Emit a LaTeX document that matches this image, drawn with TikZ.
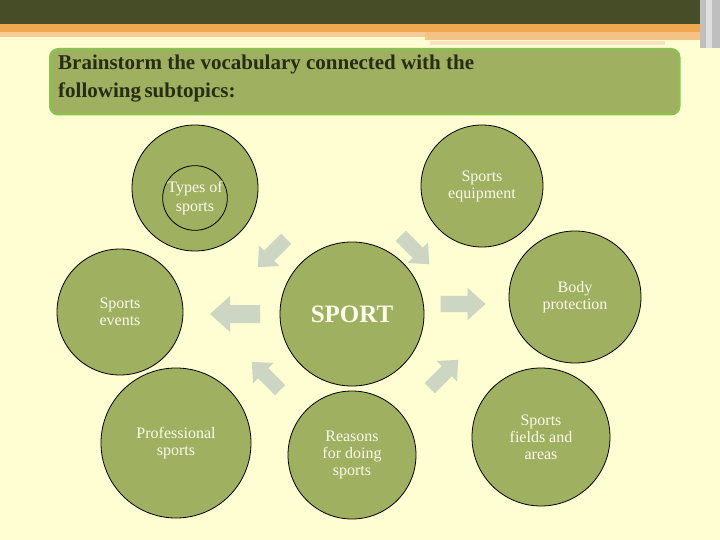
\documentclass[tikz,border=0pt]{standalone}
\usepackage{fontspec}
\setmainfont{Liberation Serif}
\begin{document}
\begin{tikzpicture}[x=1pt,y=-1pt,
  circ/.style={circle,draw=black,line width=0.8pt,fill=cgreen,text=ctext,font=\fontsize{16}{17}\selectfont,align=center,inner sep=0pt},
  barrow/.pic={\fill[carrow] (-25,-9)--(5,-9)--(5,-18)--(25,0)--(5,18)--(5,9)--(-25,9)--cycle;}]
\definecolor{bg}{HTML}{FFFDD2}
\definecolor{cgreen}{HTML}{9FB060}
\definecolor{ctext}{HTML}{FBFBEC}
\definecolor{carrow}{HTML}{CCD6C2}
\definecolor{dark}{HTML}{474D26}
\definecolor{orange}{HTML}{F0A850}
\fill[bg] (0,0) rectangle (720,540);
\useasboundingbox (0,0) rectangle (720,540);
\fill[dark] (0,0) rectangle (700,24);
\fill[orange] (0,24) rectangle (700,32);
\fill[orange!60] (0,32) rectangle (425,37);
\fill[orange!70] (425,32) rectangle (700,40);
\fill[orange!35] (430,41) rectangle (665,45);
\fill[gray!50] (700,0) rectangle (720,48);
\fill[gray!25] (706,0) rectangle (712,48);
\node[draw={rgb,255:red,140;green,192;blue,80},line width=2.5pt,fill=cgreen,rounded corners=8pt,minimum width=629,minimum height=65,anchor=north west] (title) at (49,48) {};
\node[anchor=north west,text width=612,align=justify,text={rgb,255:red,40;green,44;blue,20},font=\bfseries\fontsize{21}{28}\selectfont,inner sep=0pt] (tt) at (58,55) {Brainstorm the vocabulary connected with the\\ following\,subtopics:};
\node[circ,minimum size=126] (types) at (195,188) {};
\node[circ,font=\fontsize{16}{19}\selectfont] (typest) at (195,198) {Types of\\sports};
\node[circ,minimum size=122] (equip) at (482,186) {Sports\\equipment};
\node[circ,minimum size=126] (events) at (120,312) {Sports\\events};
\node[circ,minimum size=144,font=\bfseries\fontsize{25}{28}\selectfont] (sport) at (352,314) {SPORT};
\node[circ,minimum size=132] (body) at (575,297) {Body\\protection};
\node[circ,minimum size=150] (prof) at (176,443) {Professional\\sports};
\node[circ,minimum size=128] (reasons) at (352,455) {Reasons\\for doing\\sports};
\node[circ,minimum size=138] (fields) at (541,437) {Sports\\fields and\\areas};
\pic[rotate=180] at (235,314) {barrow};
\pic[rotate=225,scale=0.8] at (272,253) {barrow};
\pic[rotate=315,scale=0.8] at (415,250) {barrow};
\pic[rotate=0,scale=0.9] at (463,304) {barrow};
\pic[rotate=135,scale=0.8] at (266,376) {barrow};
\pic[rotate=45,scale=0.8] at (444,374) {barrow};
\end{tikzpicture}
\end{document}
